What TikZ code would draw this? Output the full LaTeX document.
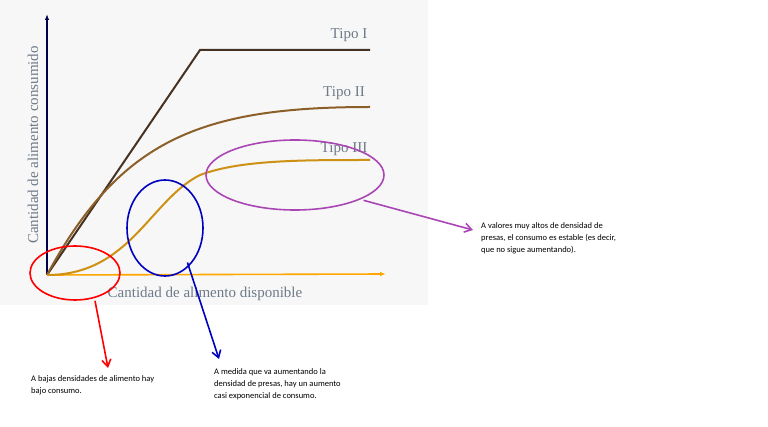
\documentclass[tikz,border=0pt]{standalone}
\usepackage{fontspec}
\setmainfont{Liberation Serif}
\newfontfamily\notefont{Carlito}
\usetikzlibrary{shapes.geometric,arrows.meta}
\definecolor{lblc}{RGB}{110,122,135}
\definecolor{gold}{RGB}{205,145,20}
\definecolor{brownII}{RGB}{140,95,40}
\definecolor{brownI}{RGB}{70,50,35}
\definecolor{purp}{RGB}{170,70,180}
\begin{document}
\begin{tikzpicture}[x=1pt,y=-1pt,
  lbl/.style={text=lblc,font=\fontsize{15}{17}\selectfont},
  note/.style={font=\notefont\fontsize{8.5}{12}\selectfont,align=left,anchor=north west,inner sep=0},
  ring/.style={ellipse,draw,line width=1.6pt,inner sep=0},
  pen/.style={line width=1.6pt,-{Straight Barb[length=7pt,width=9pt]}}]
\useasboundingbox (0,0) rectangle (768,427);
\fill[white] (0,0) rectangle (768,427);
\fill[gray!6] (0,0) rectangle (428,305);
% axes
\coordinate (O) at (47,275);
\coordinate (Ytop) at (47,14);
\coordinate (Xend) at (386,274);
\draw[line width=1.3pt,blue!30!black,-{Latex[length=6pt]}] (O) -- (Ytop);
\draw[line width=1.6pt,orange!70!yellow,-{Latex[length=6pt]}] (O) -- (Xend);
% curves
\draw[line width=2pt,brownI] (O) -- (200,50) -- (370,50);
\draw[line width=2pt,brownII] (O) .. controls (120,140) and (200,107) .. (370,107);
\draw[line width=2pt,gold] (O) .. controls (130,275) and (150,200) .. (200,175) .. controls (240,160) and (300,160) .. (370,160);
% labels
\node[lbl] (t1) at (349,35) {Tipo I};
\node[lbl] (t2) at (344,93) {Tipo II};
\node[lbl] (t3) at (344,149) {Tipo III};
\node[lbl] (xl) at (205,294) {Cantidad de alimento disponible};
\node[lbl,rotate=90] (yl) at (33,145) {Cantidad de alimento consumido};
% rings
\node[ring,red,minimum width=90pt,minimum height=54pt] (r) at (75,273) {};
\node[ring,blue!75!black,minimum width=76pt,minimum height=96pt] (b) at (165,228) {};
\node[ring,purp,minimum width=178pt,minimum height=70pt] (p) at (295,175) {};
% notes
\node[note] (nr) at (31,375) {A bajas densidades de alimento hay\\bajo consumo.};
\node[note] (nb) at (214,368) {A medida que va aumentando la\\densidad de presas, hay un aumento\\casi exponencial de consumo.};
\node[note] (np) at (481,222) {A valores muy altos de densidad de\\presas, el consumo es estable (es decir,\\que no sigue aumentando).};
\coordinate (er) at (108,368);
\coordinate (eb) at (219,359);
\coordinate (ep) at (473,230);
\draw[pen,red] (r.south) ++(20,0) -- (er);
\draw[pen,blue!75!black] (b.south east) ++(-5,0) -- (eb);
\draw[pen,purp] (p.south east) ++(5,0) -- (ep);
\end{tikzpicture}
\end{document}
